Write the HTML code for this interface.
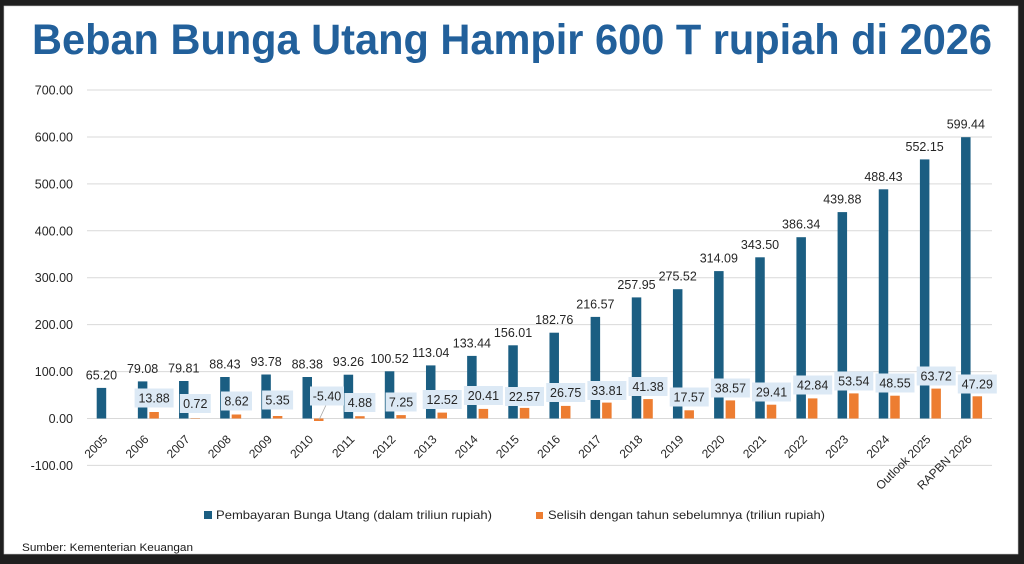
<!DOCTYPE html>
<html><head><meta charset="utf-8"><style>
html,body{margin:0;padding:0;background:#1f1f1f;}
svg{display:block;}
</style></head><body>
<svg width="1024" height="564" viewBox="0 0 1024 564" xmlns="http://www.w3.org/2000/svg" font-family="'Liberation Sans', sans-serif">
<rect x="0" y="0" width="1024" height="564" fill="#1f1f1f"/>
<rect x="4" y="6" width="1014" height="548" fill="#ffffff" stroke="#c8c8c8" stroke-width="0.6"/>
<text x="32" y="54" font-size="43" font-weight="bold" fill="#22609b" textLength="960" lengthAdjust="spacingAndGlyphs">Beban Bunga Utang Hampir 600 T rupiah di 2026</text>

<g stroke="#d9d9d9" stroke-width="1">
<line x1="87" y1="90" x2="992" y2="90"/>
<line x1="87" y1="137" x2="992" y2="137"/>
<line x1="87" y1="183.9" x2="992" y2="183.9"/>
<line x1="87" y1="230.8" x2="992" y2="230.8"/>
<line x1="87" y1="277.7" x2="992" y2="277.7"/>
<line x1="87" y1="324.6" x2="992" y2="324.6"/>
<line x1="87" y1="371.6" x2="992" y2="371.6"/>
<line x1="87" y1="418.5" x2="992" y2="418.5"/>
<line x1="87" y1="465.4" x2="992" y2="465.4"/>
</g>
<g font-size="12.5" fill="#262626" text-anchor="end">
<text x="73" y="94.5">700.00</text>
<text x="73" y="141.5">600.00</text>
<text x="73" y="188.4">500.00</text>
<text x="73" y="235.3">400.00</text>
<text x="73" y="282.2">300.00</text>
<text x="73" y="329.1">200.00</text>
<text x="73" y="376.1">100.00</text>
<text x="73" y="423">0.00</text>
<text x="73" y="469.9">-100.00</text>
</g>

<g fill="#1b5e82">
<rect x="96.7" y="387.9" width="9.5" height="30.6"/>
<rect x="137.86" y="381.4" width="9.5" height="37.1"/>
<rect x="179.02" y="381.0" width="9.5" height="37.5"/>
<rect x="220.18" y="377.0" width="9.5" height="41.5"/>
<rect x="261.34" y="374.5" width="9.5" height="44.0"/>
<rect x="302.5" y="377.0" width="9.5" height="41.5"/>
<rect x="343.66" y="374.7" width="9.5" height="43.8"/>
<rect x="384.82" y="371.3" width="9.5" height="47.2"/>
<rect x="425.98" y="365.4" width="9.5" height="53.1"/>
<rect x="467.14" y="355.9" width="9.5" height="62.6"/>
<rect x="508.3" y="345.3" width="9.5" height="73.2"/>
<rect x="549.46" y="332.7" width="9.5" height="85.8"/>
<rect x="590.62" y="316.9" width="9.5" height="101.6"/>
<rect x="631.78" y="297.4" width="9.5" height="121.1"/>
<rect x="672.94" y="289.2" width="9.5" height="129.3"/>
<rect x="714.1" y="271.1" width="9.5" height="147.4"/>
<rect x="755.26" y="257.3" width="9.5" height="161.2"/>
<rect x="796.42" y="237.2" width="9.5" height="181.3"/>
<rect x="837.58" y="212.1" width="9.5" height="206.4"/>
<rect x="878.74" y="189.3" width="9.5" height="229.2"/>
<rect x="919.9" y="159.4" width="9.5" height="259.1"/>
<rect x="961.06" y="137.2" width="9.5" height="281.3"/>
</g>
<g fill="#ed7d31">
<rect x="149.36" y="412.0" width="9.5" height="6.5"/>
<rect x="190.52" y="418.2" width="9.5" height="0.4"/>
<rect x="231.68" y="414.5" width="9.5" height="4.0"/>
<rect x="272.84" y="416.0" width="9.5" height="2.5"/>
<rect x="314.0" y="418.5" width="9.5" height="2.5"/>
<rect x="355.16" y="416.2" width="9.5" height="2.3"/>
<rect x="396.32" y="415.1" width="9.5" height="3.4"/>
<rect x="437.48" y="412.6" width="9.5" height="5.9"/>
<rect x="478.64" y="408.9" width="9.5" height="9.6"/>
<rect x="519.8" y="407.9" width="9.5" height="10.6"/>
<rect x="560.96" y="405.9" width="9.5" height="12.6"/>
<rect x="602.12" y="402.6" width="9.5" height="15.9"/>
<rect x="643.28" y="399.1" width="9.5" height="19.4"/>
<rect x="684.44" y="410.3" width="9.5" height="8.2"/>
<rect x="725.6" y="400.4" width="9.5" height="18.1"/>
<rect x="766.76" y="404.7" width="9.5" height="13.8"/>
<rect x="807.92" y="398.4" width="9.5" height="20.1"/>
<rect x="849.08" y="393.4" width="9.5" height="25.1"/>
<rect x="890.24" y="395.7" width="9.5" height="22.8"/>
<rect x="931.4" y="388.6" width="9.5" height="29.9"/>
<rect x="972.56" y="396.3" width="9.5" height="22.2"/>
</g>

<!-- blue data labels -->
<g font-size="12.5" fill="#262626" text-anchor="middle">
<text x="101.45" y="379.4">65.20</text>
<text x="142.61" y="372.9">79.08</text>
<text x="183.77" y="372.5">79.81</text>
<text x="224.93" y="368.5">88.43</text>
<text x="266.09" y="366.0">93.78</text>
<text x="307.25" y="368.5">88.38</text>
<text x="348.41" y="366.2">93.26</text>
<text x="389.57" y="362.8">100.52</text>
<text x="430.73" y="356.9">113.04</text>
<text x="471.89" y="347.4">133.44</text>
<text x="513.05" y="336.8">156.01</text>
<text x="554.21" y="324.2">182.76</text>
<text x="595.37" y="308.4">216.57</text>
<text x="636.53" y="288.9">257.95</text>
<text x="677.69" y="280.7">275.52</text>
<text x="718.85" y="262.6">314.09</text>
<text x="760.01" y="248.8">343.50</text>
<text x="801.17" y="228.7">386.34</text>
<text x="842.33" y="203.6">439.88</text>
<text x="883.49" y="180.8">488.43</text>
<text x="924.65" y="150.9">552.15</text>
<text x="965.81" y="128.7">599.44</text>
</g>

<!-- orange label boxes -->
<line x1="319" y1="420" x2="327" y2="403" stroke="#a6a6a6" stroke-width="0.8"/>
<g fill="#dce9f5">
<rect x="134.6" y="388.5" width="39" height="19"/>
<rect x="179.8" y="394" width="31" height="19"/>
<rect x="221" y="391.5" width="31" height="19"/>
<rect x="262.1" y="390.5" width="31" height="19"/>
<rect x="310" y="386.5" width="34" height="19"/>
<rect x="344.4" y="393" width="31" height="19"/>
<rect x="385.6" y="392.5" width="31" height="19"/>
<rect x="422.7" y="390" width="39" height="19"/>
<rect x="463.9" y="386" width="39" height="19"/>
<rect x="505" y="387" width="39" height="19"/>
<rect x="546.2" y="383" width="39" height="19"/>
<rect x="587.4" y="381" width="39" height="19"/>
<rect x="628.5" y="377" width="39" height="19"/>
<rect x="669.7" y="387.5" width="39" height="19"/>
<rect x="710.9" y="378.5" width="39" height="19"/>
<rect x="752" y="382.5" width="39" height="19"/>
<rect x="793.2" y="375.5" width="39" height="19"/>
<rect x="834.3" y="371.5" width="39" height="19"/>
<rect x="875.5" y="373.5" width="39" height="19"/>
<rect x="916.7" y="366.5" width="39" height="19"/>
<rect x="957.8" y="374.5" width="39" height="19"/>
</g>
<g font-size="12.5" fill="#262626" text-anchor="middle">
<text x="154.1" y="402.5">13.88</text>
<text x="195.3" y="408">0.72</text>
<text x="236.5" y="405.5">8.62</text>
<text x="277.6" y="404.5">5.35</text>
<text x="327" y="400.5">-5.40</text>
<text x="359.9" y="407">4.88</text>
<text x="401.1" y="406.5">7.25</text>
<text x="442.2" y="404">12.52</text>
<text x="483.4" y="400">20.41</text>
<text x="524.5" y="401">22.57</text>
<text x="565.7" y="397">26.75</text>
<text x="606.9" y="395">33.81</text>
<text x="648" y="391">41.38</text>
<text x="689.2" y="401.5">17.57</text>
<text x="730.4" y="392.5">38.57</text>
<text x="771.5" y="396.5">29.41</text>
<text x="812.7" y="389.5">42.84</text>
<text x="853.8" y="385.5">53.54</text>
<text x="895" y="387.5">48.55</text>
<text x="936.2" y="380.5">63.72</text>
<text x="977.3" y="388.5">47.29</text>
</g>

<!-- x axis labels -->
<g font-size="12" fill="#262626" text-anchor="end">
<text transform="translate(108.2,440) rotate(-45)">2005</text>
<text transform="translate(149.4,440) rotate(-45)">2006</text>
<text transform="translate(190.5,440) rotate(-45)">2007</text>
<text transform="translate(231.7,440) rotate(-45)">2008</text>
<text transform="translate(272.8,440) rotate(-45)">2009</text>
<text transform="translate(314,440) rotate(-45)">2010</text>
<text transform="translate(355.2,440) rotate(-45)">2011</text>
<text transform="translate(396.3,440) rotate(-45)">2012</text>
<text transform="translate(437.5,440) rotate(-45)">2013</text>
<text transform="translate(478.6,440) rotate(-45)">2014</text>
<text transform="translate(519.8,440) rotate(-45)">2015</text>
<text transform="translate(561,440) rotate(-45)">2016</text>
<text transform="translate(602.1,440) rotate(-45)">2017</text>
<text transform="translate(643.3,440) rotate(-45)">2018</text>
<text transform="translate(684.4,440) rotate(-45)">2019</text>
<text transform="translate(725.6,440) rotate(-45)">2020</text>
<text transform="translate(766.8,440) rotate(-45)">2021</text>
<text transform="translate(807.9,440) rotate(-45)">2022</text>
<text transform="translate(849.1,440) rotate(-45)">2023</text>
<text transform="translate(890.2,440) rotate(-45)">2024</text>
<text transform="translate(931.4,440) rotate(-45)">Outlook 2025</text>
<text transform="translate(972.6,440) rotate(-45)">RAPBN 2026</text>
</g>

<!-- legend -->
<rect x="204" y="511" width="8" height="8" fill="#1b5e82"/>
<text x="216" y="519" font-size="12" fill="#262626" textLength="276" lengthAdjust="spacingAndGlyphs">Pembayaran Bunga Utang (dalam triliun rupiah)</text>
<rect x="536" y="512" width="7" height="7" fill="#ed7d31"/>
<text x="548" y="519" font-size="12" fill="#262626" textLength="277" lengthAdjust="spacingAndGlyphs">Selisih dengan tahun sebelumnya (triliun rupiah)</text>

<text x="22" y="551" font-size="11" fill="#1a1a1a" textLength="171" lengthAdjust="spacingAndGlyphs">Sumber: Kementerian Keuangan</text>
</svg>
</body></html>
